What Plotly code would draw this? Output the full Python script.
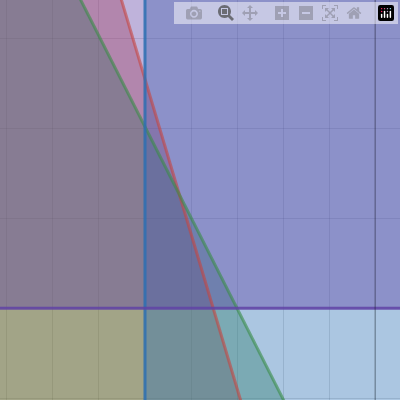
import plotly.graph_objects as go

x_range = [-3.15, 5.54]
y_range = [-1.02, 3.43]
# inequalities y <= b + m*x
red_b, red_m = 2.55, -1.72
green_b, green_m = 2.02, -1.01

RED = "#c74440"; BLUE = "#2d70b3"; GREEN = "#388c46"; PURPLE = "#6042a6"

def rgba(h, a):
    h = h.lstrip("#")
    return "rgba(%d,%d,%d,%s)" % (int(h[0:2],16), int(h[2:4],16), int(h[4:6],16), a)

x0, x1 = x_range[0] - 1, x_range[1] + 1
y0, y1 = y_range[0] - 1, y_range[1] + 1
fig = go.Figure()

# below lines
for b, m, c in [(red_b, red_m, RED), (green_b, green_m, GREEN)]:
    fig.add_trace(go.Scatter(x=[x0, x1, x0, x0], y=[b + m*x0, b + m*x1, y0 - 50, b + m*x0],
                             fill="toself", fillcolor=rgba(c, 0.4), line=dict(width=0), mode="lines"))
# x >= 0 (blue)
fig.add_trace(go.Scatter(x=[0, x1, x1, 0, 0], y=[y0, y0, y1, y1, y0], fill="toself",
                         fillcolor=rgba(BLUE, 0.4), line=dict(width=0), mode="lines"))
# y >= 0 (purple)
fig.add_trace(go.Scatter(x=[x0, x1, x1, x0, x0], y=[0, 0, y1, y1, 0], fill="toself",
                         fillcolor=rgba(PURPLE, 0.4), line=dict(width=0), mode="lines"))
# boundary lines
for b, m, c in [(red_b, red_m, RED), (green_b, green_m, GREEN)]:
    fig.add_trace(go.Scatter(x=[x0, x1], y=[b + m*x0, b + m*x1], mode="lines",
                             line=dict(color=rgba(c, 0.6), width=3)))
fig.add_trace(go.Scatter(x=[0, 0], y=[y0, y1], mode="lines", line=dict(color=rgba(BLUE, 0.85), width=3)))
fig.add_trace(go.Scatter(x=[x0, x1], y=[0, 0], mode="lines", line=dict(color=rgba(PURPLE, 0.85), width=3)))
fig.add_trace(go.Scatter(x=[5, 5], y=[y0, y1], mode="lines", line=dict(color="rgba(0,0,0,0.25)", width=1.5)))

fig.update_layout(width=400, height=400, margin=dict(l=0, r=0, t=0, b=0),
                  showlegend=False, plot_bgcolor="white", paper_bgcolor="white")
fig.update_xaxes(range=x_range, dtick=1, tick0=0, showgrid=True, gridcolor="rgba(0,0,0,0.13)",
                 zeroline=False, showticklabels=False)
fig.update_yaxes(range=y_range, dtick=1, tick0=0, showgrid=True, gridcolor="rgba(0,0,0,0.13)",
                 zeroline=False, showticklabels=False)
fig.write_html("out.html", post_script="document.body.style.margin='0';document.body.style.padding='0';")
